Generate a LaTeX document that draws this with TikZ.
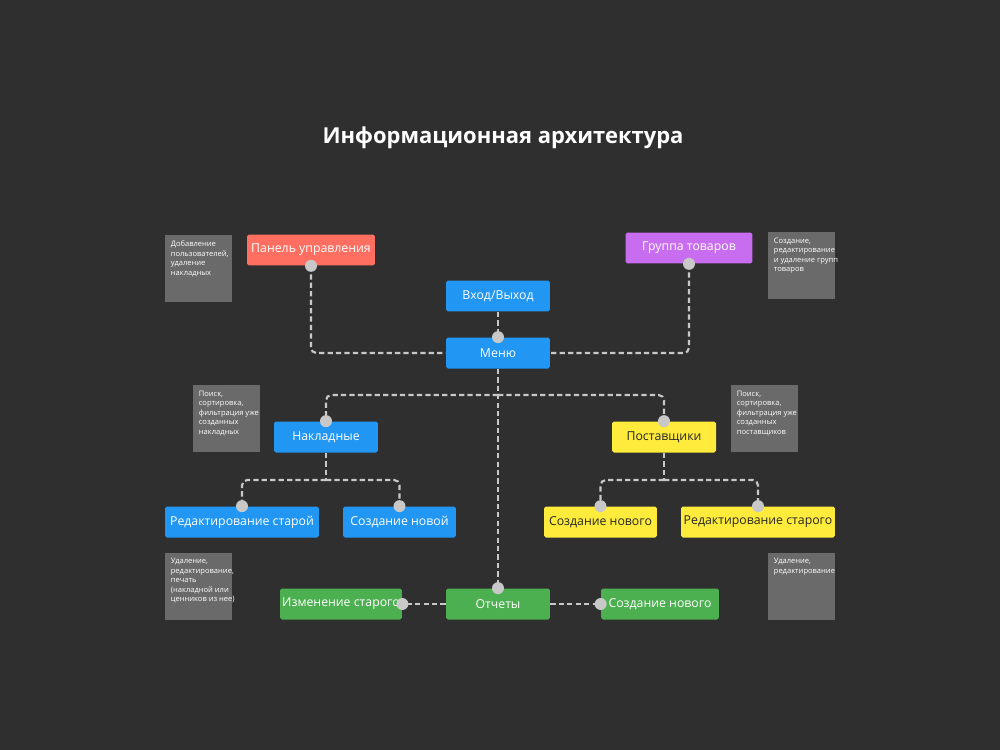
\documentclass[tikz,border=0pt]{standalone}
\usepackage{fontspec}
\setmainfont{Open Sans}
\usetikzlibrary{calc}
\definecolor{bg}{HTML}{2F2F2F}
\definecolor{coral}{HTML}{FF6F61}
\definecolor{purp}{HTML}{C86DF0}
\definecolor{blu}{HTML}{2196F3}
\definecolor{yel}{HTML}{FFEB3B}
\definecolor{grn}{HTML}{4CAF50}
\definecolor{note}{HTML}{6A6A6A}
\definecolor{ln}{HTML}{C8C8C8}
\begin{document}
\begin{tikzpicture}[x=0.02cm,y=-0.02cm,
 box/.style={rectangle,rounded corners=1pt,minimum height=0.62cm,inner sep=0pt,font=\fontsize{7}{8}\selectfont,text=white},
 conn/.style={draw=ln,line width=1.2pt,dash pattern=on 3pt off 1.8pt,rounded corners=3pt},
 dot/.style={circle,fill=ln,minimum size=0.24cm,inner sep=0pt},
 sticky/.style={rectangle,fill=note,minimum width=1.34cm,minimum height=1.34cm,inner sep=0pt},
 ntext/.style={anchor=north west,align=left,text=white,font=\fontsize{4.3}{5.4}\selectfont}]
\fill[bg] (0,0) rectangle (1000,750);
\useasboundingbox (0,0) rectangle (1000,750);
\node[text=white,font=\fontsize{12.5}{14}\bfseries] (title) at (503,138) {Информационная архитектура};
% boxes
\node[box,fill=coral,minimum width=2.56cm] (pan) at (311,250) {Панель управления};
\node[box,fill=purp,minimum width=2.54cm] (grp) at (689,248) {Группа товаров};
\node[box,fill=blu,minimum width=2.08cm] (vh) at (498,296) {Вход/Выход};
\node[box,fill=blu,minimum width=2.08cm] (menu) at (498,353) {Меню};
\node[box,fill=blu,minimum width=2.08cm] (nak) at (326,437) {Накладные};
\node[box,fill=yel,minimum width=2.08cm,text=black!85] (post) at (664,437) {Поставщики};
\node[box,fill=blu,minimum width=3.08cm] (red1) at (242,522) {Редактирование старой};
\node[box,fill=blu,minimum width=2.26cm] (new1) at (399.5,522) {Создание новой};
\node[box,fill=yel,minimum width=2.26cm,text=black!85] (new2) at (600.5,522) {Создание нового};
\node[box,fill=yel,minimum width=3.08cm,text=black!85] (red2) at (758,522) {Редактирование старого};
\node[box,fill=grn,minimum width=2.44cm] (izm) at (341,604) {Изменение старого};
\node[box,fill=grn,minimum width=2.08cm] (otch) at (498,604) {Отчеты};
\node[box,fill=grn,minimum width=2.36cm] (new3) at (660,604) {Создание нового};
% notes
\node[sticky] (n1) at (198.5,268.5) {};
\node[ntext] at (n1.north west) {Добавление\\пользователей,\\удаление\\накладных};
\node[sticky] (n2) at (801.5,265.5) {};
\node[ntext] at (n2.north west) {Создание,\\редактирование\\и удаление групп\\товаров};
\node[sticky] (n3) at (226.5,418.5) {};
\node[ntext] at (n3.north west) {Поиск,\\сортировка,\\фильтрация уже\\созданных\\накладных};
\node[sticky] (n4) at (764.5,418.5) {};
\node[ntext] at (n4.north west) {Поиск,\\сортировка,\\фильтрация уже\\созданных\\поставщиков};
\node[sticky] (n5) at (198.5,586) {};
\node[ntext] at (n5.north west) {Удаление,\\редактирование,\\печать\\(накладной или\\ценников из нее)};
\node[sticky] (n6) at (801.5,586) {};
\node[ntext] at (n6.north west) {Удаление,\\редактирование};
% connectors
\draw[conn] (pan.south) |- (menu.west);
\draw[conn] (grp.south) |- (menu.east);
\draw[conn] (vh.south) -- (menu.north);
\draw[conn] (menu.south) -- (otch.north);
\coordinate (b1) at (498,395);
\draw[conn] (b1) -| (nak.north);
\draw[conn] (b1) -| (post.north);
\coordinate (b2) at (326,480);
\draw[conn] (nak.south) -- (b2);
\draw[conn] (b2) -| (red1.north);
\draw[conn] (b2) -| (new1.north);
\coordinate (b3) at (664,480);
\draw[conn] (post.south) -- (b3);
\draw[conn] (b3) -| (new2.north);
\draw[conn] (b3) -| (red2.north);
\draw[conn] (otch.west) -- (izm.east);
\draw[conn] (otch.east) -- (new3.west);
% dots
\foreach \p in {pan.south,grp.south,menu.north,otch.north,nak.north,post.north,red1.north,new1.north,new2.north,red2.north,izm.east,new3.west}
  \node[dot] at (\p) {};
\end{tikzpicture}
\end{document}
